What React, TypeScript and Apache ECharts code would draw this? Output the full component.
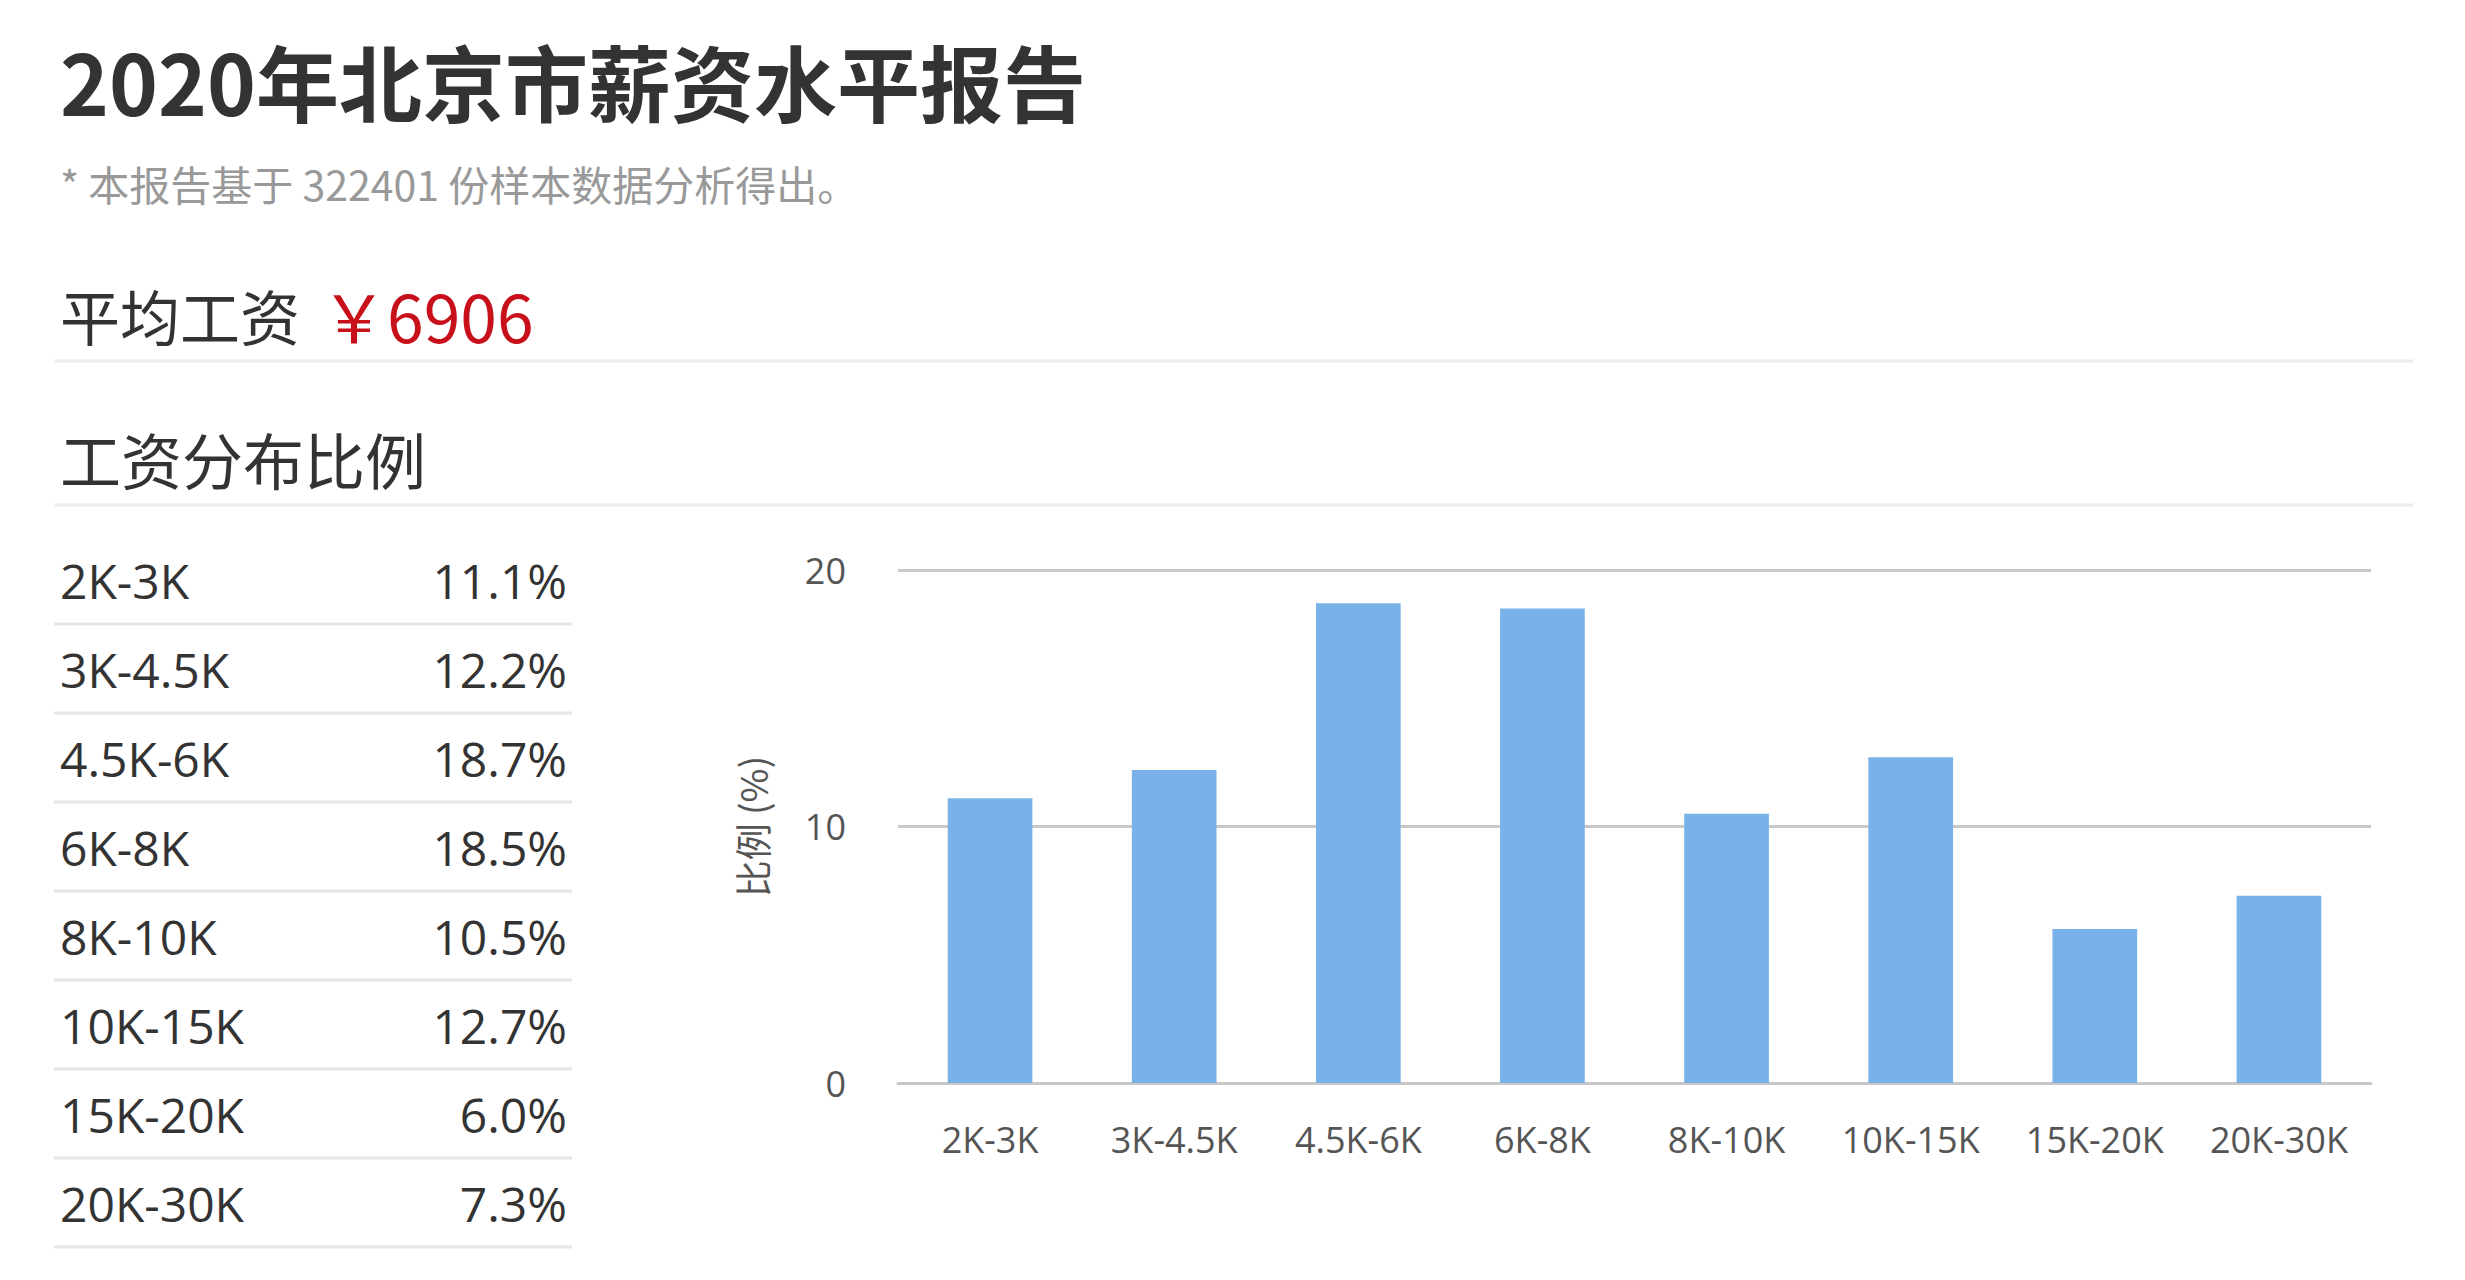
import { useEffect, useRef } from 'react';
import * as echarts from 'echarts';

const categories = ['2K-3K', '3K-4.5K', '4.5K-6K', '6K-8K', '8K-10K', '10K-15K', '15K-20K', '20K-30K'];
const shares = [11.1, 12.2, 18.7, 18.5, 10.5, 12.7, 6.0, 7.3];
const yMax = 20;
const yStep = 10;
const avgSalary = 6906;
const sampleCount = 322401;

const FONT = '"Open Sans", "Noto Sans CJK SC", sans-serif';
const CJK = '"Noto Sans CJK SC", sans-serif';

export default function App() {
  const chartRef = useRef<HTMLDivElement>(null);

  useEffect(() => {
    if (!chartRef.current) return;
    const chart = echarts.init(chartRef.current, undefined, { renderer: 'svg' });

    // left-hand table, one row per category
    const rowTop = 580;
    const rowH = 89;
    const tableRows: any[] = [];
    categories.forEach((c, i) => {
      tableRows.push(
        {
          type: 'text',
          x: 60,
          y: rowTop + i * rowH,
          style: { text: c, fontSize: 48, fontFamily: FONT, fill: '#333', verticalAlign: 'middle' },
        },
        {
          type: 'text',
          x: 567,
          y: rowTop + i * rowH,
          style: {
            text: `${shares[i].toFixed(1)}%`,
            fontSize: 48,
            fontFamily: FONT,
            fill: '#333',
            align: 'right',
            verticalAlign: 'middle',
          },
        },
        {
          type: 'line',
          shape: { x1: 54, y1: rowTop + 44 + i * rowH, x2: 572, y2: rowTop + 44 + i * rowH },
          style: { stroke: '#e6e6e6', lineWidth: 3 },
        }
      );
    });

    const option: echarts.EChartsOption = {
      animation: false,
      backgroundColor: '#fff',
      graphic: [
        {
          type: 'text',
          x: 60,
          y: 80,
          style: {
            text: '2020年北京市薪资水平报告',
            fontSize: 83,
            fontWeight: 'bold',
            fontFamily: CJK,
            fill: '#333',
            verticalAlign: 'middle',
          },
        },
        {
          type: 'text',
          x: 60,
          y: 183,
          style: {
            text: `* 本报告基于 ${sampleCount} 份样本数据分析得出。`,
            fontSize: 41,
            fontFamily: CJK,
            fill: '#999',
            verticalAlign: 'middle',
          },
        },
        {
          type: 'text',
          x: 60,
          y: 314,
          style: { text: '平均工资', fontSize: 60, fontFamily: CJK, fill: '#333', verticalAlign: 'middle' },
        },
        {
          type: 'text',
          x: 321,
          y: 314,
          style: {
            text: `￥${avgSalary}`,
            fontSize: 66,
            fontFamily: CJK,
            fill: '#c8101a',
            verticalAlign: 'middle',
          },
        },
        {
          type: 'line',
          shape: { x1: 55, y1: 361, x2: 2413, y2: 361 },
          style: { stroke: '#ececec', lineWidth: 3 },
        },
        {
          type: 'text',
          x: 60,
          y: 458,
          style: { text: '工资分布比例', fontSize: 61, fontFamily: CJK, fill: '#333', verticalAlign: 'middle' },
        },
        {
          type: 'line',
          shape: { x1: 55, y1: 505, x2: 2413, y2: 505 },
          style: { stroke: '#ececec', lineWidth: 3 },
        },
        ...tableRows,
      ],
      grid: {
        left: 898,
        right: 94,
        top: 570,
        bottom: 197,
      },
      xAxis: {
        type: 'category',
        data: categories,
        axisLine: { lineStyle: { color: '#c8c8c8', width: 3 } },
        axisTick: { length: 32, lineStyle: { color: '#c8c8c8', width: 2 } },
        axisLabel: {
          color: '#555',
          fontSize: 36,
          fontFamily: FONT,
          margin: 38,
          interval: 0,
        },
      },
      yAxis: {
        type: 'value',
        min: 0,
        max: yMax,
        interval: yStep,
        name: '比例 (%)',
        nameLocation: 'middle',
        nameGap: 128,
        nameTextStyle: { color: '#555', fontSize: 37, fontFamily: CJK },
        axisLine: { show: false },
        axisTick: { show: false },
        axisLabel: { color: '#555', fontSize: 36, fontFamily: FONT, margin: 52 },
        splitLine: { lineStyle: { color: '#c8c8c8', width: 3 } },
      },
      series: [
        {
          type: 'bar',
          data: shares,
          barWidth: '46%',
          itemStyle: { color: '#79b2e8' },
        },
      ],
    };

    chart.setOption(option);
    const onResize = () => chart.resize();
    window.addEventListener('resize', onResize);
    return () => {
      window.removeEventListener('resize', onResize);
      chart.dispose();
    };
  }, []);

  return (
    <div
      ref={chartRef}
      style={{ position: 'fixed', left: 0, top: 0, width: '100vw', height: '100vh', background: '#fff' }}
    />
  );
}
